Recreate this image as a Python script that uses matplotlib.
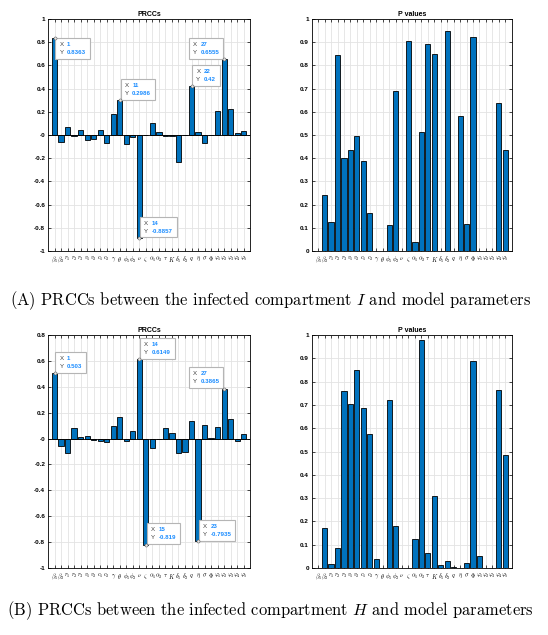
import matplotlib
matplotlib.use("Agg")
import matplotlib.pyplot as plt
import numpy as np
from matplotlib.offsetbox import TextArea, HPacker, VPacker, AnnotationBbox

# parameter names on the x axis (mathtext)
param_labels = [r"\beta_1", r"\beta_2", "r_1", "r_2", "r_3", "v_1", "v_2", "c_1", "c_2",
                r"\gamma", r"\theta", r"\phi_1", r"\phi_2", r"\nu", r"\zeta",
                r"\alpha_1", r"\alpha_2", r"\tau", "K", r"\delta_1", r"\delta_2",
                "q", r"\eta", r"\sigma", r"\Phi",
                r"\varphi_1", r"\varphi_2", r"\varphi_3", r"\varphi_4", r"\varphi_5"]

# (A) infected compartment I
prcc_I = [0.8363, -0.06, 0.07, -0.01, 0.04, -0.04, -0.03, 0.04, -0.07, 0.18,
          0.2986, -0.08, -0.02, -0.8857, 0.0, 0.10, 0.03, -0.01, -0.01, -0.23,
          0.0, 0.42, 0.03, -0.07, 0.0, 0.21, 0.6555, 0.225, 0.02, 0.035]
pval_I = [0.0, 0.24, 0.125, 0.845, 0.40, 0.435, 0.495, 0.39, 0.163, 0.0,
          0.0, 0.11, 0.69, 0.0, 0.905, 0.04, 0.513, 0.893, 0.85, 0.0,
          0.95, 0.0, 0.58, 0.117, 0.923, 0.0, 0.0, 0.0, 0.64, 0.435]
tips_I = [1, 11, 14, 22, 27]

# (B) infected compartment H
prcc_H = [0.503, -0.06, -0.11, 0.08, 0.015, 0.02, -0.01, -0.015, -0.025, 0.095,
          0.17, -0.015, 0.06, 0.6149, -0.819, -0.07, 0.0, 0.085, 0.045, -0.115,
          -0.10, 0.135, -0.7935, 0.105, 0.005, 0.09, 0.3865, 0.155, -0.015, 0.035]
pval_H = [0.0, 0.172, 0.017, 0.087, 0.76, 0.703, 0.851, 0.688, 0.576, 0.04,
          0.0, 0.72, 0.182, 0.0, 0.0, 0.123, 0.98, 0.065, 0.307, 0.012,
          0.03, 0.005, 0.0, 0.022, 0.887, 0.053, 0.0, 0.0, 0.763, 0.485]
tips_H = [1, 14, 15, 23, 27]

# where each datatip box sits relative to its point
tip_side_I = {1: "below-right", 11: "above-right", 14: "above-right",
              22: "above-right", 27: "above-left"}
tip_side_H = {1: "above-right", 14: "above-right", 15: "above-right",
              23: "above-right", 27: "above-left"}

BAR_COLOR = "#0072BD"
TIP_BLUE = "#1a8cff"
TICK_FONT = "Liberation Sans"

plt.rcParams["mathtext.fontset"] = "cm"


def datatip(ax, x, y, side):
    lab = dict(color="#404040", size=4.4, family=TICK_FONT)
    val = dict(color=TIP_BLUE, size=4.4, family=TICK_FONT, weight="bold")
    row_x = HPacker(children=[TextArea("X", textprops=lab), TextArea(f"{x}", textprops=val)],
                    align="baseline", pad=0, sep=2.5)
    row_y = HPacker(children=[TextArea("Y", textprops=lab), TextArea(f"{y:.4g}", textprops=val)],
                    align="baseline", pad=0, sep=2.5)
    box = VPacker(children=[row_x, row_y], align="left", pad=0, sep=2.2)
    if side == "below-right":
        align, off = (0, 1), (3.5, -3.0)
    elif side == "above-left":
        align, off = (1, 0), (-3.5, 3.0)
    else:
        align, off = (0, 0), (3.5, 3.0)
    ab = AnnotationBbox(box, (x, y), xybox=off, xycoords="data",
                        boxcoords="offset points", box_alignment=align,
                        frameon=True, pad=0.28, fontsize=10, zorder=7,
                        bboxprops=dict(facecolor="white", edgecolor="#b5b5b5", lw=0.8))
    ax.add_artist(ab)
    ax.plot([x], [y], marker="o", ms=2.2, mfc="#e8e8e8", mec="#606060", mew=0.4, zorder=8)


def style_axes(ax, title, ylim, yticks):
    n = len(param_labels)
    ax.set_xlim(0, n + 1)
    ax.set_ylim(*ylim)
    ax.set_xticks(np.arange(1, n + 1))
    ax.set_xticklabels([f"${s}$" for s in param_labels], fontsize=4.3)
    ax.set_yticks(yticks)
    ax.set_yticklabels([f"{t:g}" for t in yticks], fontsize=4.6,
                       family=TICK_FONT, weight="bold")
    ax.tick_params(direction="in", length=2, width=0.5, top=True, right=True, pad=2)
    ax.tick_params(axis="x", pad=3)
    ax.grid(True, color="#e3e3e3", lw=0.6)
    ax.set_axisbelow(True)
    for sp in ax.spines.values():
        sp.set_linewidth(0.6)
    ax.set_title(title, fontsize=5, weight="bold", family=TICK_FONT, pad=2)


def draw_prcc(ax, values, tips, sides, ylim, yticks):
    x = np.arange(1, len(values) + 1)
    ax.bar(x, values, width=0.8, color=BAR_COLOR, edgecolor="black", lw=0.6, zorder=3)
    ax.axhline(0, color="black", lw=0.6, zorder=4)
    style_axes(ax, "PRCCs", ylim, yticks)
    for t in tips:
        datatip(ax, t, values[t - 1], sides[t])


def draw_pval(ax, values):
    x = np.arange(1, len(values) + 1)
    ax.bar(x, values, width=0.8, color=BAR_COLOR, edgecolor="black", lw=0.6, zorder=3)
    style_axes(ax, "P values", (0, 1), np.round(np.arange(0, 1.01, 0.1), 1))


fig = plt.figure(figsize=(5.48, 6.35), dpi=100)

ax1 = fig.add_axes([0.0876, 0.6047, 0.369, 0.3653])
ax2 = fig.add_axes([0.5688, 0.6047, 0.365, 0.3653])
ax3 = fig.add_axes([0.0876, 0.1055, 0.369, 0.3669])
ax4 = fig.add_axes([0.5688, 0.1055, 0.365, 0.3669])

draw_prcc(ax1, prcc_I, tips_I, tip_side_I, (-1, 1), np.round(np.arange(-1, 1.01, 0.2), 1))
draw_pval(ax2, pval_I)
draw_prcc(ax3, prcc_H, tips_H, tip_side_H, (-1, 0.8), np.round(np.arange(-1, 0.81, 0.2), 1))
draw_pval(ax4, pval_H)

cap_kw = dict(ha="center", va="center", fontsize=11.9, family="cmr10")
fig.text(0.4935, 1 - 301 / 635, r"(A) PRCCs between the infected compartment $I$ and model parameters", **cap_kw)
fig.text(0.4935, 1 - 611 / 635, r"(B) PRCCs between the infected compartment $H$ and model parameters", **cap_kw)

fig.savefig("out.png", dpi=100)
